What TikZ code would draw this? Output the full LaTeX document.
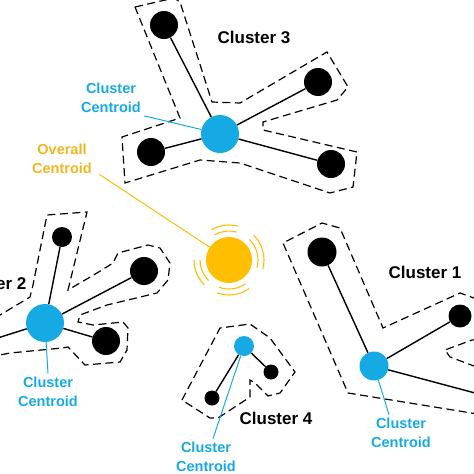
\documentclass[tikz,border=0pt]{standalone}
\usepackage{fontspec}
\setmainfont{Liberation Sans}
\usetikzlibrary{shapes}
\definecolor{ctrblue}{RGB}{22,170,228}
\definecolor{ovlorange}{RGB}{255,190,0}
\definecolor{ovltext}{RGB}{242,182,30}
\begin{document}
\begin{tikzpicture}[x=1pt,y=-1pt]
\tikzstyle{pt}=[circle,fill=black,inner sep=0pt,minimum size=28pt]
\tikzstyle{ctr}=[circle,fill=ctrblue,inner sep=0pt,minimum size=38pt]
\tikzstyle{hull}=[dash pattern=on 8pt off 4.5pt,line width=1.2pt]
\tikzstyle{edge}=[line width=1.4pt]
\tikzstyle{lead}=[ctrblue,line width=1pt]
\tikzstyle{ctrlabel}=[text=ctrblue,font=\bfseries\fontsize{14.5}{19}\selectfont,align=center]
\tikzstyle{clabel}=[font=\bfseries\fontsize{17}{20}\selectfont]
\tikzstyle{wave}=[ovlorange,line width=1.1pt]
\useasboundingbox (0,0) rectangle (474,474);
\clip (0,0) rectangle (474,474);

\draw[hull] (135,7) -- (174,-2) -- (180,2) -- (212,102) -- (240,103) -- (327,52) -- (348,87) -- (337,100)
  -- (263,122) -- (263,130) -- (357,152) -- (353,187) -- (330,193) -- (240,163) -- (200,160)
  -- (125,183) -- (122,137) -- (180,118) -- cycle;
\draw[hull] (-5,318) -- (30,297) -- (33,285) -- (47,215) -- (87,212) -- (68,290) -- (97,273) -- (113,263)
  -- (118,253) -- (148,245) -- (160,248) -- (170,263) -- (168,280) -- (157,293) -- (107,305)
  -- (80,315) -- (78,322) -- (93,325) -- (123,322) -- (128,328) -- (127,350) -- (120,362)
  -- (85,365) -- (68,347) -- (62,348) -- (10,353) -- (-5,356);
\draw[hull] (182,400) -- (220,328) -- (250,324) -- (270,338) -- (295,372) -- (280,393) -- (268,396)
  -- (255,383) -- (250,380) -- (250,397) -- (218,418) -- (210,418) -- cycle;
\draw[hull] (490,297) -- (474,298) -- (460,293) -- (383,328) -- (340,228) -- (322,223) -- (283,243)
  -- (348,393) -- (490,416);
\draw[hull] (490,338) -- (472,340) -- (445,350) -- (450,357) -- (490,372);

\node[ctr] (c3) at (220,134) {};
\node[pt] (p31) at (164,25) {};
\node[pt] (p32) at (318,82) {};
\node[pt] (p33) at (151,152) {};
\node[pt] (p34) at (331,164) {};
\draw[edge] (c3) -- (p31);
\draw[edge] (c3) -- (p32);
\draw[edge] (c3) -- (p33);
\draw[edge] (c3) -- (p34);
\node[clabel] (cl3) at (254,37) {Cluster 3};
\node[ctrlabel] (lab3) at (111,97.5) {Cluster\\Centroid};
\draw[lead] (lab3.south east) -- (c3);

\node[ctr] (c2) at (45,323) {};
\node[pt,minimum size=20pt] (p21) at (62,237) {};
\node[pt] (p22) at (144,271) {};
\node[pt] (p23) at (106,341) {};
\node[pt] (p24) at (-15,342) {};
\draw[edge] (c2) -- (p21);
\draw[edge] (c2) -- (p22);
\draw[edge] (c2) -- (p23);
\draw[edge] (c2) -- (p24);
\node[clabel] (cl2) at (-10,283) {Cluster 2};
\node[ctrlabel] (lab2) at (48,392) {Cluster\\Centroid};
\draw[lead] (c2) -- (lab2.north);

\node[ctr,minimum size=20pt] (c4) at (244,346) {};
\node[pt,minimum size=15pt] (p41) at (212,398) {};
\node[pt,minimum size=15pt] (p42) at (271,372) {};
\draw[edge] (c4) -- (p41);
\draw[edge] (c4) -- (p42);
\node[clabel] (cl4) at (276,418) {Cluster 4};
\node[ctrlabel] (lab4) at (206,457) {Cluster\\Centroid};
\draw[lead] (c4) -- ([xshift=7pt]lab4.north);

\node[ctr,minimum size=29pt] (c1) at (374,366) {};
\node[pt,minimum size=29pt] (p11) at (322,252) {};
\node[pt,minimum size=23pt] (p12) at (460,316) {};
\node[pt] (p13) at (490,397) {};
\draw[edge] (c1) -- (p11);
\draw[edge] (c1) -- (p12);
\draw[edge] (c1) -- (p13);
\node[clabel] (cl1) at (425,272) {Cluster 1};
\node[ctrlabel] (lab1) at (401,433) {Cluster\\Centroid};
\draw[lead] (c1) -- ([xshift=-12pt]lab1.north);

\node[circle,fill=ovlorange,inner sep=0pt,minimum size=46pt] (oc) at (229,260) {};
\foreach \a/\b in {-120/-75,-45/15,135/180,55/110}{
  \draw[wave] (oc.center) ++(\a:29) arc (\a:\b:29);
  \draw[wave] (oc.center) ++(\a:35) arc (\a:\b:35);
}
\node[ctrlabel,text=ovltext] (ovl) at (62,159) {Overall\\Centroid};
\draw[ovlorange,line width=1pt] ([xshift=4pt,yshift=3pt]ovl.south east) -- (oc);
\end{tikzpicture}
\end{document}
